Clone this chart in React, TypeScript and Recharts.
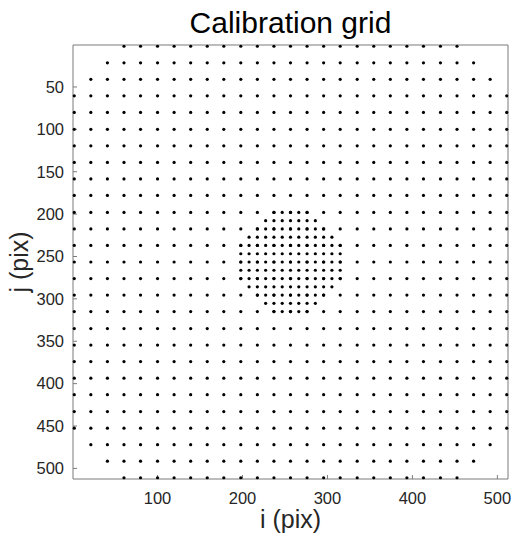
import React from 'react';
import { ScatterChart, Scatter, XAxis, YAxis, Customized } from 'recharts';

document.body.style.margin = '0';

// main calibration grid, pixel positions of the 27 lines (same in i and j)
const gridPos = [
  2, 21.5, 41, 60.5, 80, 100, 119.5, 139, 158.5, 178, 198, 217.5, 237, 256.5,
  276, 295.5, 315, 335, 354.5, 374, 393.5, 413, 433, 452.5, 472, 491.5, 511,
];
// first / last column index present on each row (corners are cut)
const rowFirst = [3, 2, 1, 0, 0, 0, 0, 0, 0, 0, 0, 0, 0, 0, 0, 0, 0, 0, 0, 0, 0, 0, 0, 0, 1, 2, 3];
const rowLast = [23, 24, 25, 26, 26, 26, 26, 26, 26, 26, 26, 26, 26, 26, 26, 26, 26, 26, 26, 26, 26, 26, 26, 26, 25, 24, 23];

// dense patch in the centre, half pitch
const densePos = [198, 207.75, 217.5, 227.25, 237, 246.75, 256.5, 266.25, 276, 285.75, 295.5, 305.25, 315];
const denseFirst = [4, 3, 2, 1, 0, 0, 0, 0, 0, 1, 2, 3, 4];
const denseLast = [8, 9, 10, 11, 12, 12, 12, 12, 12, 11, 10, 9, 8];

const xTicks = [100, 200, 300, 400, 500];
const yTicks = [50, 100, 150, 200, 250, 300, 350, 400, 450, 500];

const FONT = "'Liberation Sans', Arial, Helvetica, sans-serif";
const AXIS = '#7a7a7a';
const TXT = '#262626';

const buildPoints = (pos: number[], first: number[], last: number[]) => {
  const pts: { i: number; j: number }[] = [];
  pos.forEach((j, r) => {
    for (let c = first[r]; c <= last[r]; c++) pts.push({ i: pos[c], j });
  });
  return pts;
};

const mainPoints = buildPoints(gridPos, rowFirst, rowLast);
const densePoints = buildPoints(densePos, denseFirst, denseLast);

const Dot = (p: any) => <circle cx={p.cx} cy={p.cy} r={1.6} fill="#000" />;

const Texts = () => (
  <g fontFamily={FONT}>
    <text x={290.5} y={33} textAnchor="middle" fontSize={30} fill="#000">Calibration grid</text>
    <text x={290.5} y={528} textAnchor="middle" fontSize={25} fill={TXT}>i (pix)</text>
    <text transform="translate(28,262) rotate(-90)" textAnchor="middle" fontSize={25} fill={TXT}>j (pix)</text>
  </g>
);

const tickStyle = { fontFamily: FONT, fontSize: 16.5, fill: TXT };

export default function App() {
  return (
    <ScatterChart width={519} height={550} margin={{ top: 44, right: 10, bottom: 31, left: 13 }}>
      <XAxis
        xAxisId="b" dataKey="i" type="number" domain={[0.5, 512.5]} ticks={xTicks} interval={0}
        height={40} tickSize={-4} tickMargin={17} tick={tickStyle}
        axisLine={{ stroke: AXIS }} tickLine={{ stroke: AXIS }}
      />
      <XAxis
        xAxisId="t" orientation="top" dataKey="i" type="number" domain={[0.5, 512.5]} ticks={xTicks} interval={0}
        height={1} tickSize={-4} tick={false}
        axisLine={{ stroke: AXIS }} tickLine={{ stroke: AXIS }}
      />
      <YAxis
        yAxisId="l" dataKey="j" type="number" domain={[0.5, 512.5]} reversed ticks={yTicks} interval={0}
        width={60} tickSize={-4} tickMargin={13} tick={tickStyle}
        axisLine={{ stroke: AXIS }} tickLine={{ stroke: AXIS }}
      />
      <YAxis
        yAxisId="r" orientation="right" dataKey="j" type="number" domain={[0.5, 512.5]} reversed ticks={yTicks} interval={0}
        width={1} tickSize={-4} tick={false}
        axisLine={{ stroke: AXIS }} tickLine={{ stroke: AXIS }}
      />
      <Scatter xAxisId="b" yAxisId="l" data={mainPoints} shape={Dot} isAnimationActive={false} />
      <Scatter xAxisId="b" yAxisId="l" data={densePoints} shape={Dot} isAnimationActive={false} />
      <Customized component={Texts} />
    </ScatterChart>
  );
}
